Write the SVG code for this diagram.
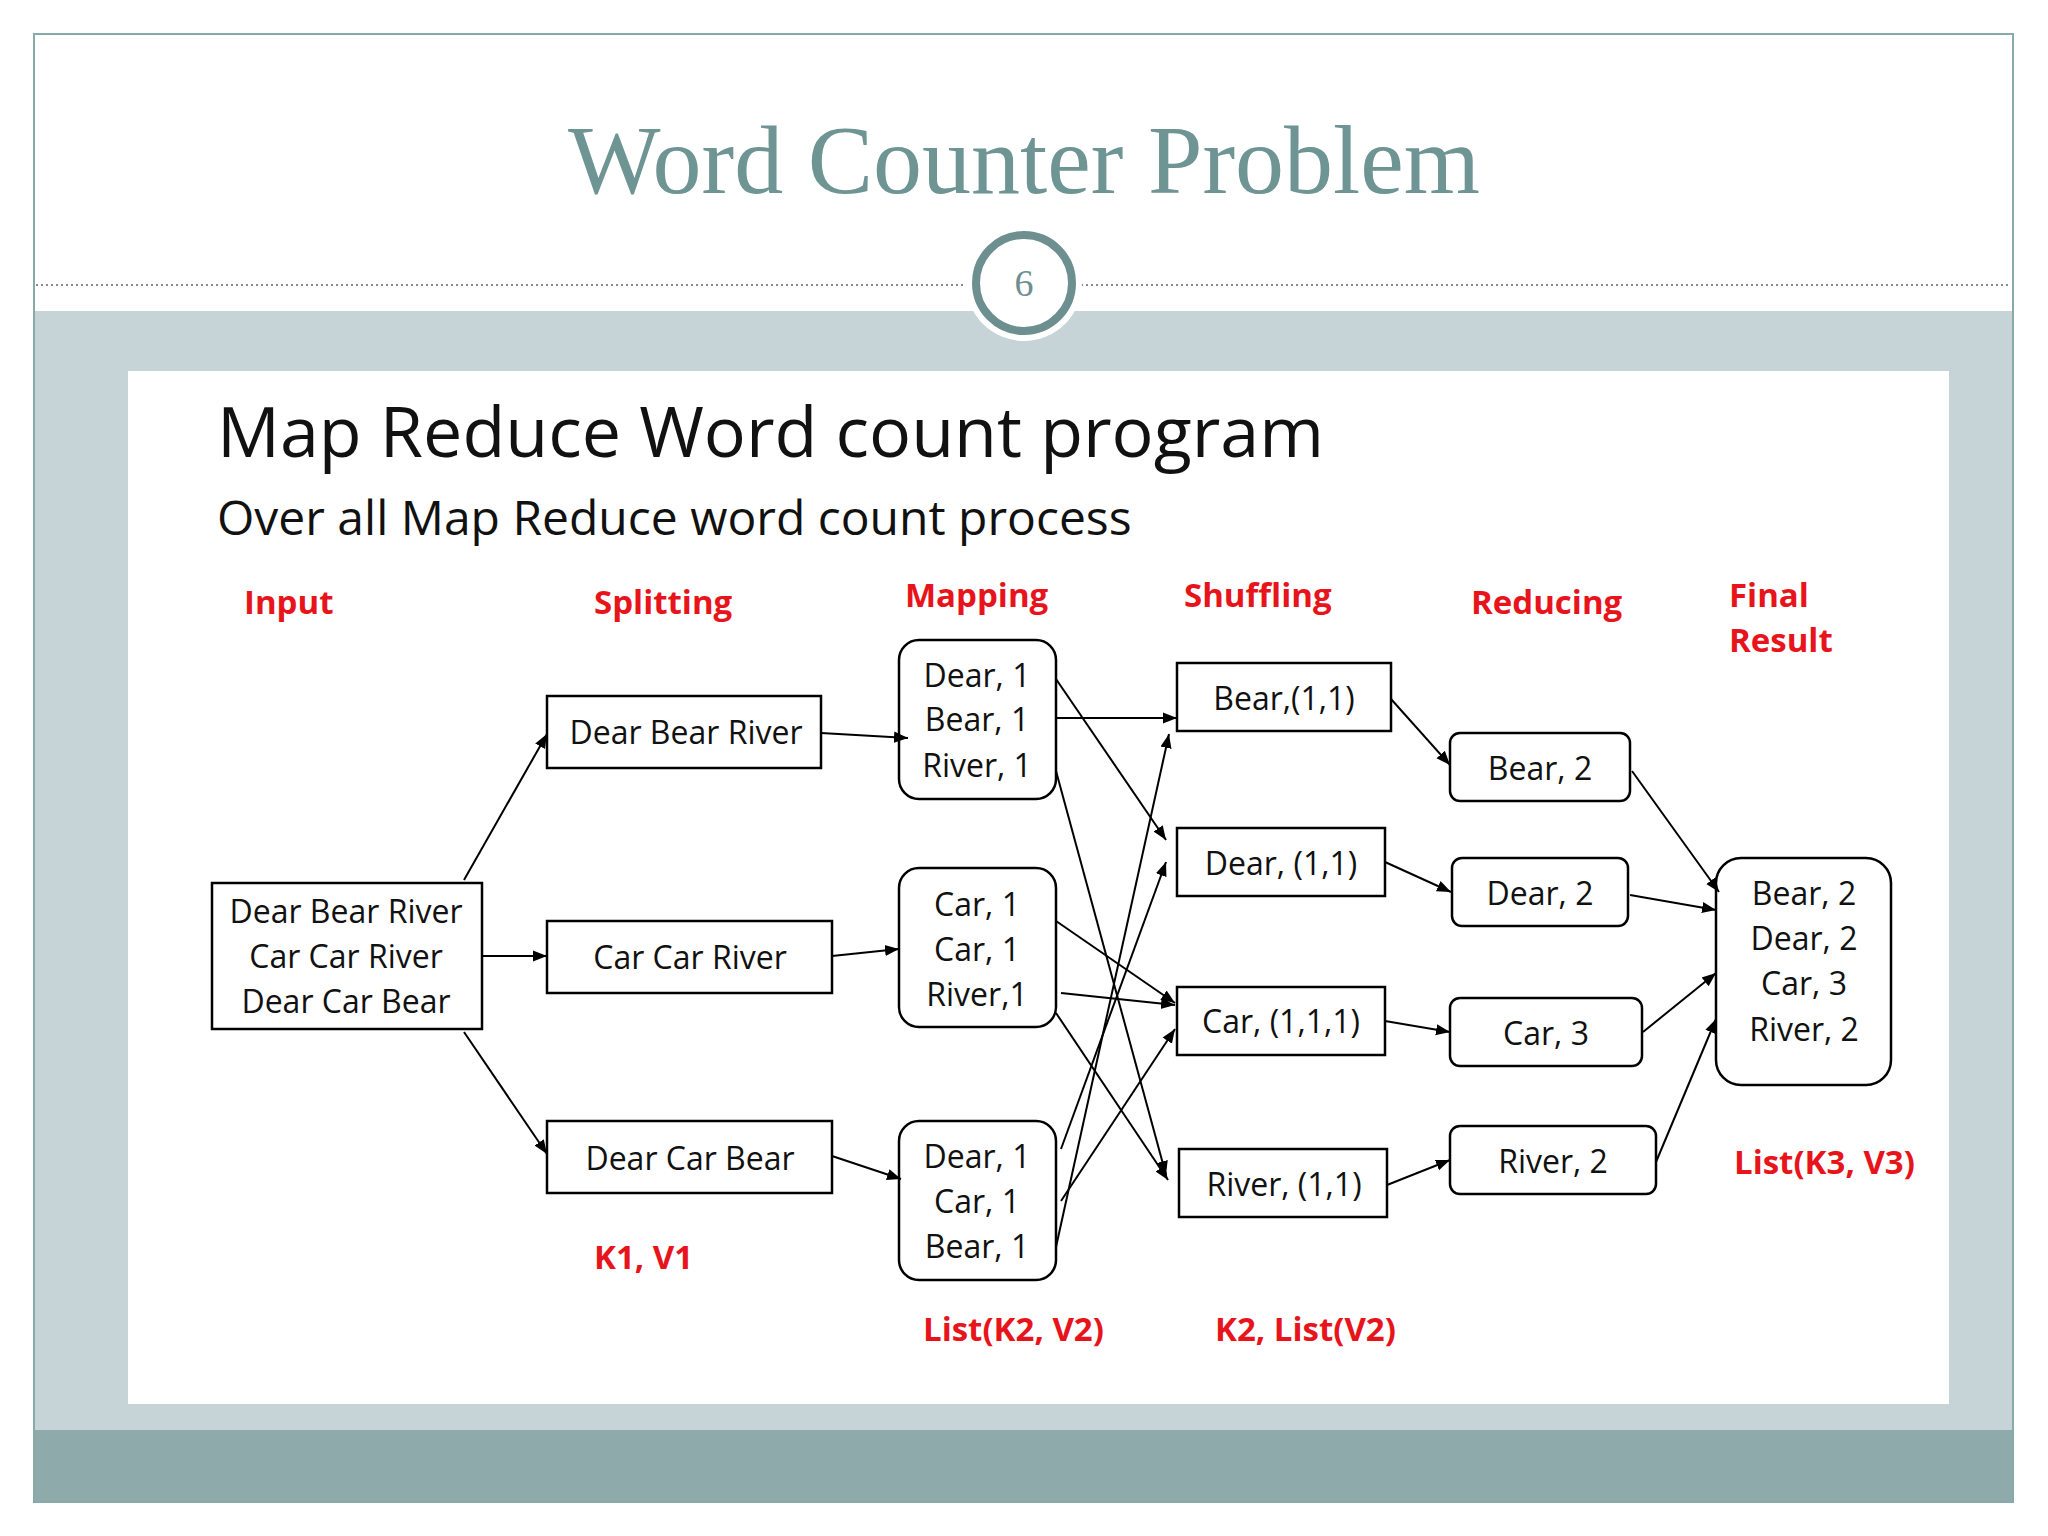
<svg xmlns="http://www.w3.org/2000/svg" width="2048" height="1536" viewBox="0 0 2048 1536">
<defs>
<marker id="ah" viewBox="0 0 10 10" refX="10" refY="5" markerWidth="7" markerHeight="7" orient="auto"><path d="M0,1 L10,5 L0,9 z" fill="#000"/></marker>
<style>
.b{fill:#fff;stroke:#000;stroke-width:2.5}
.t{font-family:"Open Sans","Liberation Sans",sans-serif;font-size:32px;fill:#111;text-anchor:middle}
.r{font-family:"Open Sans","Liberation Sans",sans-serif;font-size:33px;font-weight:bold;fill:#e8141c}
.c line{stroke:#000;stroke-width:2;marker-end:url(#ah)}
</style>
</defs>
<rect width="2048" height="1536" fill="#fff"/>
<rect x="34" y="311" width="1979" height="1119" fill="#c6d4d8"/>
<rect x="34" y="1430" width="1979" height="72" fill="#8eaaab"/>
<rect x="34" y="34" width="1979" height="1468" fill="none" stroke="#8aa" stroke-width="2"/>
<line x1="36" y1="285" x2="2011" y2="285" stroke="#889" stroke-width="2" stroke-dasharray="2,3"/>
<text x="1024" y="193" font-family="Liberation Serif,serif" font-size="98" fill="#6e9494" text-anchor="middle">Word Counter Problem</text>
<circle cx="1024" cy="283" r="58" fill="#fff"/>
<circle cx="1024" cy="283" r="48" fill="#fff" stroke="#6e8f8f" stroke-width="8"/>
<text x="1024" y="296" font-family="Liberation Serif,serif" font-size="38" fill="#6e8f8f" text-anchor="middle">6</text>
<rect x="128" y="371" width="1821" height="1033" fill="#fff"/>
<text x="217" y="457" font-family="Open Sans,sans-serif" font-size="70" fill="#111">Map Reduce Word count program</text>
<text x="217" y="535" font-family="Open Sans,sans-serif" font-size="48" fill="#111">Over all Map Reduce word count process</text>
<text class="r" x="244" y="614">Input</text>
<text class="r" x="594" y="614">Splitting</text>
<text class="r" x="905" y="607">Mapping</text>
<text class="r" x="1184" y="607">Shuffling</text>
<text class="r" x="1471" y="614">Reducing</text>
<text class="r" x="1729" y="607">Final</text>
<text class="r" x="1729" y="652">Result</text>
<text class="r" x="594" y="1269">K1, V1</text>
<text class="r" x="923" y="1341">List(K2, V2)</text>
<text class="r" x="1215" y="1341">K2, List(V2)</text>
<text class="r" x="1734" y="1174">List(K3, V3)</text>
<g id="input"><rect class="b" x="212" y="883" width="270" height="146"/><text class="t" x="346" y="923">Dear Bear River</text><text class="t" x="346" y="968">Car Car River</text><text class="t" x="346" y="1013">Dear Car Bear</text></g>
<g id="split1"><rect class="b" x="547" y="696" width="274" height="72"/><text class="t" x="686" y="744">Dear Bear River</text></g>
<g id="split2"><rect class="b" x="547" y="921" width="285" height="72"/><text class="t" x="690" y="969">Car Car River</text></g>
<g id="split3"><rect class="b" x="547" y="1121" width="285" height="72"/><text class="t" x="690" y="1170">Dear Car Bear</text></g>
<g id="map1"><rect class="b" x="899" y="640" width="157" height="159" rx="20"/><text class="t" x="977" y="687">Dear, 1</text><text class="t" x="977" y="731">Bear, 1</text><text class="t" x="977" y="777">River, 1</text></g>
<g id="map2"><rect class="b" x="899" y="868" width="157" height="159" rx="20"/><text class="t" x="977" y="916">Car, 1</text><text class="t" x="977" y="961">Car, 1</text><text class="t" x="977" y="1006">River,1</text></g>
<g id="map3"><rect class="b" x="899" y="1121" width="157" height="159" rx="20"/><text class="t" x="977" y="1168">Dear, 1</text><text class="t" x="977" y="1213">Car, 1</text><text class="t" x="977" y="1258">Bear, 1</text></g>
<g id="shuf1"><rect class="b" x="1177" y="663" width="214" height="68"/><text class="t" x="1284" y="710">Bear,(1,1)</text></g>
<g id="shuf2"><rect class="b" x="1177" y="828" width="208" height="68"/><text class="t" x="1281" y="875">Dear, (1,1)</text></g>
<g id="shuf3"><rect class="b" x="1177" y="987" width="208" height="68"/><text class="t" x="1281" y="1033">Car, (1,1,1)</text></g>
<g id="shuf4"><rect class="b" x="1179" y="1149" width="208" height="68"/><text class="t" x="1284" y="1196">River, (1,1)</text></g>
<g id="red1"><rect class="b" x="1450" y="733" width="180" height="68" rx="10"/><text class="t" x="1540" y="780">Bear, 2</text></g>
<g id="red2"><rect class="b" x="1452" y="858" width="176" height="68" rx="10"/><text class="t" x="1540" y="905">Dear, 2</text></g>
<g id="red3"><rect class="b" x="1450" y="998" width="192" height="68" rx="10"/><text class="t" x="1546" y="1045">Car, 3</text></g>
<g id="red4"><rect class="b" x="1450" y="1126" width="206" height="68" rx="10"/><text class="t" x="1553" y="1173">River, 2</text></g>
<g id="final"><rect class="b" x="1716" y="858" width="175" height="227" rx="25"/><text class="t" x="1804" y="905">Bear, 2</text><text class="t" x="1804" y="950">Dear, 2</text><text class="t" x="1804" y="995">Car, 3</text><text class="t" x="1804" y="1041">River, 2</text></g>
<g class="c" id="connectors">
<line x1="464" y1="880" x2="547" y2="734"/>
<line x1="482" y1="956" x2="547" y2="956"/>
<line x1="464" y1="1032" x2="547" y2="1154"/>
<line x1="821" y1="733" x2="908" y2="738"/>
<line x1="832" y1="956" x2="899" y2="949"/>
<line x1="832" y1="1156" x2="901" y2="1179"/>
<line x1="1056" y1="718" x2="1177" y2="718"/>
<line x1="1056" y1="679" x2="1166" y2="840"/>
<line x1="1056" y1="771" x2="1166" y2="1175"/>
<line x1="1056" y1="921" x2="1175" y2="1003"/>
<line x1="1061" y1="993" x2="1175" y2="1005"/>
<line x1="1056" y1="1013" x2="1168" y2="1180"/>
<line x1="1056" y1="1247" x2="1169" y2="734"/>
<line x1="1061" y1="1149" x2="1166" y2="862"/>
<line x1="1061" y1="1201" x2="1175" y2="1029"/>
<line x1="1391" y1="699" x2="1450" y2="765"/>
<line x1="1385" y1="862" x2="1451" y2="892"/>
<line x1="1385" y1="1021" x2="1450" y2="1032"/>
<line x1="1387" y1="1185" x2="1450" y2="1160"/>
<line x1="1632" y1="771" x2="1719" y2="892"/>
<line x1="1630" y1="895" x2="1716" y2="910"/>
<line x1="1643" y1="1032" x2="1716" y2="973"/>
<line x1="1656" y1="1162" x2="1716" y2="1019"/>
</g>
</svg>
